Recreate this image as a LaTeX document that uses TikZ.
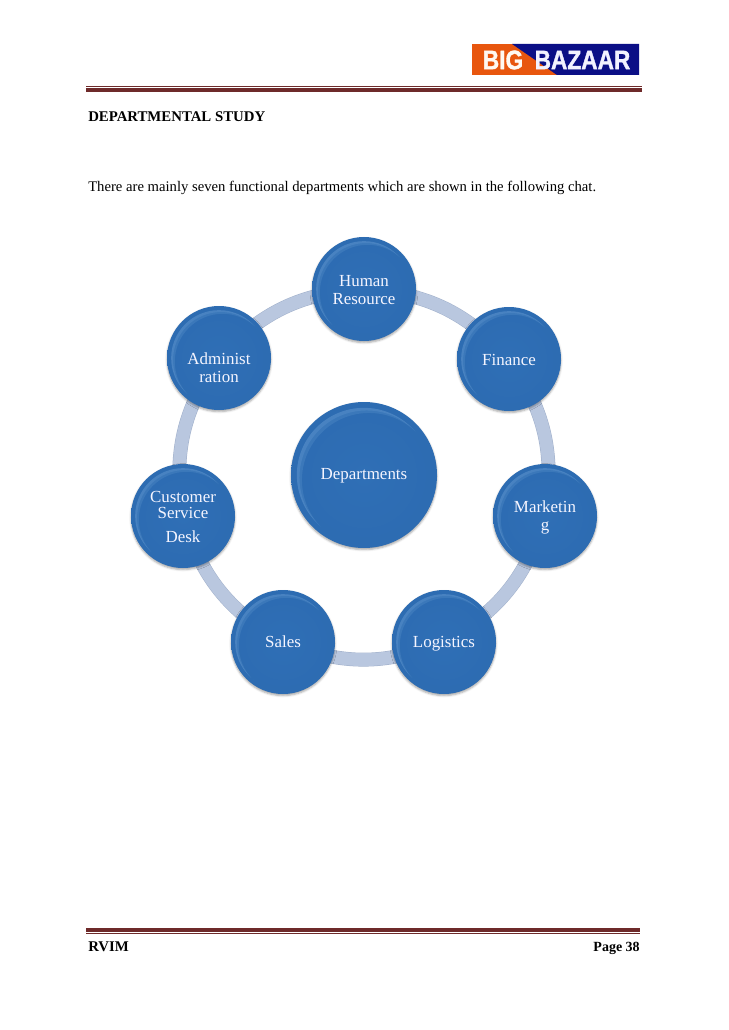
\documentclass[tikz,border=0pt]{standalone}
\usepackage{fontspec}
\setmainfont{Liberation Serif}
\newfontfamily\logofont[BoldFeatures={FakeBold=1.5}]{Liberation Sans}
\usetikzlibrary{shadows.blur}
\definecolor{rulered}{HTML}{6E2A2A}
\definecolor{ringc}{HTML}{B9C7DF}
\definecolor{ringe}{HTML}{A3B2CC}
\definecolor{logoblue}{HTML}{0B0F86}
\definecolor{logoorange}{HTML}{E8560E}
\definecolor{orbglow}{HTML}{6FA3D8}
\definecolor{orba}{HTML}{2F6FB6}
\definecolor{orbb}{HTML}{2C6AB0}
\definecolor{orbc}{HTML}{3273BA}
\definecolor{orbd}{HTML}{2A5F9E}
\definecolor{orbe}{HTML}{1E4A7C}
\pgfdeclareradialshading{orbball}{\pgfpoint{0bp}{0bp}}{
 color(0bp)=(orba);
 color(36bp)=(orbb);
 color(43.5bp)=(orbc);
 color(46bp)=(orbd);
 color(50bp)=(orbe)}
\tikzset{
 x=0.75pt,y=-0.75pt,
 orb/.style={circle,inner sep=0pt,minimum size=#1*0.75pt,shading=orbball,
   blur shadow={shadow xshift=0pt,shadow yshift=-1.2pt,shadow blur radius=1.5pt,shadow opacity=35},
   path picture={
     \begin{scope}
       \clip (path picture bounding box.center) circle ({#1*0.75pt*0.46});
       \fill[orbglow,opacity=.22,even odd rule]
         ([xshift=-60pt,yshift=-60pt]path picture bounding box.center) rectangle ([xshift=60pt,yshift=60pt]path picture bounding box.center)
         ([xshift=#1*0.75pt*0.035,yshift=-#1*0.75pt*0.035]path picture bounding box.center) circle ({#1*0.75pt*0.46});
       \fill[orbglow,opacity=.25,even odd rule]
         ([xshift=-60pt,yshift=-60pt]path picture bounding box.center) rectangle ([xshift=60pt,yshift=60pt]path picture bounding box.center)
         ([xshift=#1*0.75pt*0.018,yshift=-#1*0.75pt*0.018]path picture bounding box.center) circle ({#1*0.75pt*0.46});
     \end{scope}
   }},
 orbtext/.style={text=white!96!blue,font=\fontsize{12.7}{13.5}\selectfont,align=center,inner sep=0pt},
 ringarc/.style={draw=ringe,line width=.4pt,double=ringc,double distance=9.6pt},
 pagetext/.style={anchor=base west,inner sep=0pt,font=\fontsize{11}{12}\selectfont,text=black},
 pagebold/.style={pagetext,font=\fontsize{11.1}{12}\selectfont\bfseries},
 rulethick/.style={draw=rulered,line width=3pt},
 rulethin/.style={draw=rulered,line width=0.8pt},
}
\begin{document}
\begin{tikzpicture}
\useasboundingbox (0,0) rectangle (728,1030);
% logo
\fill[logoorange] (472,44) rectangle (639,75);
\fill[logoblue] (512,44) -- (639,44) -- (639,75) -- (557,75) -- cycle;
\node[inner sep=0pt,text=white!95!orange,anchor=center,font=\logofont\bfseries\fontsize{20}{20}\selectfont,xscale=.85,transform shape] (logo1) at (503,60) {BIG};
\node[inner sep=0pt,text=white!95!blue,anchor=center,font=\logofont\bfseries\fontsize{20}{20}\selectfont,xscale=.85,transform shape] (logo2) at (582.5,60) {BAZAAR};
% rules
\draw[rulethin] (86,86.5) -- (642,86.5);
\draw[rulethick] (86,89.7) -- (642,89.7);
\draw[rulethick] (86,930) -- (640,930);
\draw[rulethin] (86,933.8) -- (640,933.8);
% page text
\node[pagebold] (title) at (88,122) {DEPARTMENTAL STUDY};
\node[pagetext] (intro) at (88,191.5) {There are mainly seven functional departments which are shown in the following chat.};
\node[pagebold] (foot) at (88,951) {RVIM};
\node[pagebold,anchor=base east,font=\fontsize{10.5}{12}\selectfont\bfseries] (page) at (640,951) {Page 38};
% orbs
\coordinate (hrc) at (364,289);
\coordinate (fic) at (509,359);
\coordinate (mac) at (545,516);
\coordinate (loc) at (444,642);
\coordinate (sac) at (283,642);
\coordinate (cuc) at (183,516);
\coordinate (adc) at (219,358);
\draw[ringarc] (hrc) to[bend left=22] (fic);
\draw[ringarc] (fic) to[bend left=22] (mac);
\draw[ringarc] (mac) to[bend left=22] (loc);
\draw[ringarc] (loc) to[bend left=22] (sac);
\draw[ringarc] (sac) to[bend left=22] (cuc);
\draw[ringarc] (cuc) to[bend left=22] (adc);
\draw[ringarc] (adc) to[bend left=22] (hrc);
\node[orb=104] (hr) at (hrc) {};
\node[orb=104] (fi) at (fic) {};
\node[orb=104] (ma) at (mac) {};
\node[orb=104] (lo) at (loc) {};
\node[orb=104] (sa) at (sac) {};
\node[orb=104] (cu) at (cuc) {};
\node[orb=104] (ad) at (adc) {};
\node[orb=146] (de) at (364,475) {};
\node[orbtext] (t1) at (364,290) {Human\\Resource};
\node[orbtext] (t2) at (509,360) {Finance};
\node[orbtext] (t3) at (545,517.5) {Marketin\\g};
\node[orbtext] (t4) at (444,643.5) {Logistics};
\node[orbtext] (t5) at (283,642) {Sales};
\node[orbtext] (t6) at (183,517) {Customer\\[-0.8pt]Service\\[4.5pt]Desk};
\node[orbtext] (t7) at (219,368) {Administ\\ration};
\node[orbtext] (t8) at (364,476) {Departments};
\end{tikzpicture}
\end{document}
